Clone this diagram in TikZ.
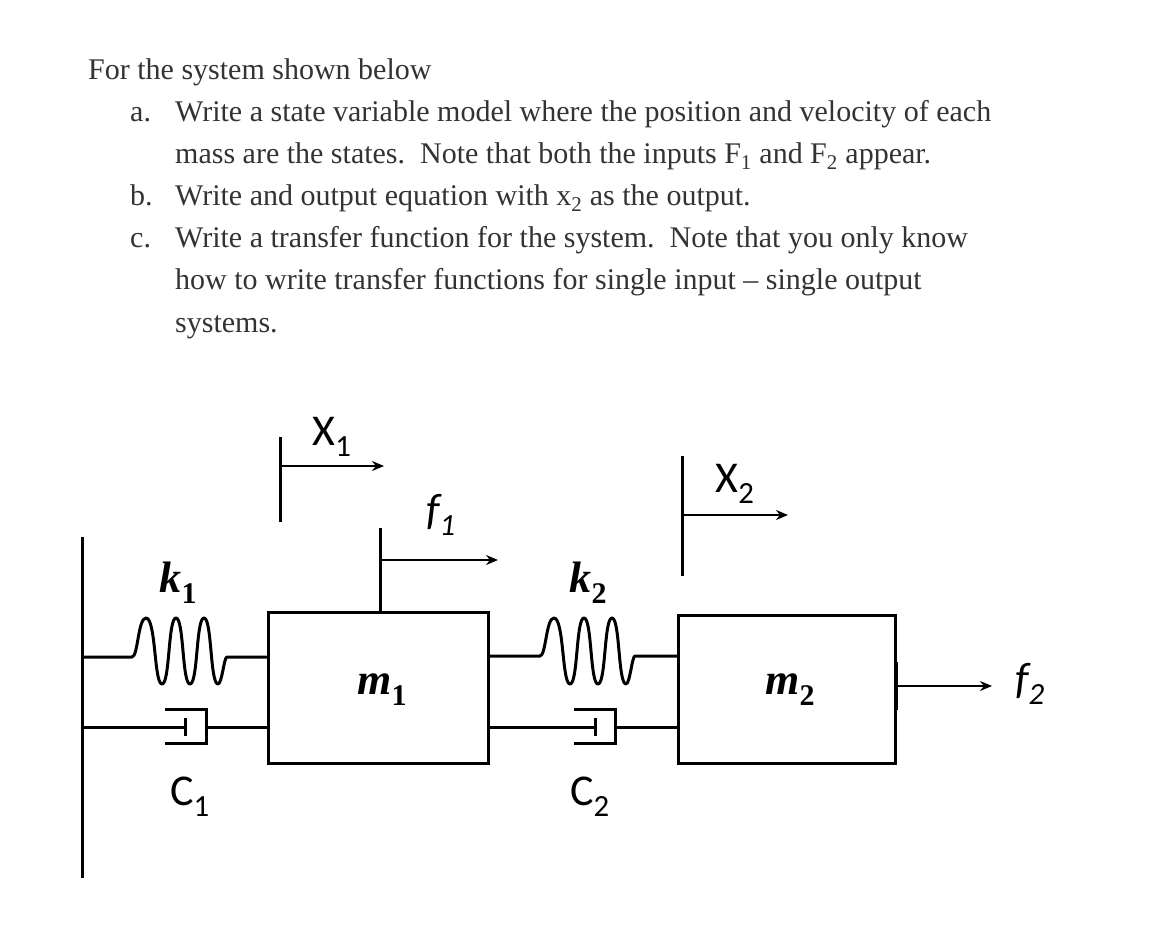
\documentclass[tikz,border=0pt]{standalone}
\usepackage{fontspec}
\setmainfont{Liberation Serif}
\newfontfamily\lblfont{Carlito}
\usetikzlibrary{arrows.meta}
\newcommand{\bsym}[2]{{\bfseries\itshape #1}\raisebox{-0.25em}{\fontsize{30}{30}\selectfont\bfseries #2}}
\begin{document}
\begin{tikzpicture}[x=1pt,y=-1pt,
  ln/.style={line width=3pt},
  txt/.style={anchor=base west,inner sep=0,text=black!80,font=\fontsize{30}{34}\selectfont},
  lab/.style={inner sep=0,font=\lblfont\fontsize{44}{44}\selectfont},
  ml/.style={inner sep=0,font=\fontsize{44}{44}\selectfont},
  arr/.style={line width=2.6pt,-{Stealth[length=12pt,width=10pt]}}]
\useasboundingbox (0,0) rectangle (1152,952);
% text
\node[txt] (t0) at (88,80) {For the system shown below};
\node[txt] (ta) at (130,122) {a.};
\node[txt] (ta1) at (175,122) {Write a state variable model where the position and velocity of each};
\node[txt] (ta2) at (175,164) {mass are the states.\ \ Note that both the inputs F\textsubscript{1} and F\textsubscript{2} appear.};
\node[txt] (tb) at (130,206) {b.};
\node[txt] (tb1) at (175,206) {Write and output equation with x\textsubscript{2} as the output.};
\node[txt] (tc) at (130,248) {c.};
\node[txt] (tc1) at (175,248) {Write a transfer function for the system.\ \ Note that you only know};
\node[txt] (tc2) at (175,290) {how to write transfer functions for single input -- single output};
\node[txt] (tc3) at (175,332) {systems.};
% wall
\coordinate (w1) at (82,537); \coordinate (w2) at (82,878);
\draw[ln] (w1) -- (w2);
% masses
\node[draw,ln,minimum width=220,minimum height=151,inner sep=0] (m1) at (378,687.5) {};
\node[draw,ln,minimum width=217,minimum height=148,inner sep=0] (m2) at (786.5,689) {};
\node[ml] (m1l) at (382,690) {\bsym{m}{1}};
\node[ml] (m2l) at (790,690) {\bsym{m}{2}};
% spring 1
\draw[ln,line join=round] (82,657) -- (132,657) .. controls (138,657) and (138,618) .. (146,618)
  .. controls (156,618) and (154,684) .. (162,684) .. controls (170,684) and (168,618) .. (176,618)
  .. controls (184,618) and (182,684) .. (190,684) .. controls (198,684) and (196,618) .. (204,618)
  .. controls (212,618) and (210,684) .. (218,684) .. controls (222,684) and (224,657) .. (227,657) -- (268,657);
% damper 1
\draw[ln] (82,727) -- (185,727) (185,718) -- (185,736);
\draw[ln] (165,709) -- (206,709) -- (206,743) -- (165,743) (206,727) -- (268,727);
% spring 2
\draw[ln,line join=round] (488,656) -- (540,656) .. controls (546,656) and (546,618) .. (554,618)
  .. controls (564,618) and (562,684) .. (570,684) .. controls (578,684) and (576,618) .. (584,618)
  .. controls (592,618) and (590,684) .. (598,684) .. controls (606,684) and (604,618) .. (612,618)
  .. controls (620,618) and (618,684) .. (626,684) .. controls (630,684) and (632,656) .. (635,656) -- (678,656);
% damper 2
\draw[ln] (488,727) -- (595,727) (595,718) -- (595,736);
\draw[ln] (574,709) -- (615,709) -- (615,743) -- (574,743) (615,727) -- (678,727);
% labels
\node[ml] (k1) at (178,583) {\bsym{k}{1}};
\node[ml] (k2) at (588,583) {\bsym{k}{2}};
\node[lab] (c1) at (190,797) {C\textsubscript{1}};
\node[lab] (c2) at (590,797) {C\textsubscript{2}};
% X1
\coordinate (x1a) at (280,437); \coordinate (x1b) at (280,522); \coordinate (x1c) at (280,466); \coordinate (x1d) at (384,466);
\draw[ln] (x1a) -- (x1b); \draw[arr] (x1c) -- (x1d);
\node[lab] (x1l) at (332,437) {X\textsubscript{1}};
% f1
\coordinate (f1b) at (380,528); \coordinate (f1c) at (380,560); \coordinate (f1d) at (498,560);
\draw[ln] (m1.north -| f1b) -- (f1b); \draw[arr] (f1c) -- (f1d);
\node[lab] (f1l) at (441,515) {\itshape f\textsubscript{1}};
% X2
\coordinate (x2a) at (682,456); \coordinate (x2b) at (682,576); \coordinate (x2c) at (682,515); \coordinate (x2d) at (788,515);
\draw[ln] (x2a) -- (x2b); \draw[arr] (x2c) -- (x2d);
\node[lab] (x2l) at (735,484) {X\textsubscript{2}};
% f2
\coordinate (f2a) at (897,662); \coordinate (f2b) at (897,710); \coordinate (f2c) at (897,686); \coordinate (f2d) at (992,686);
\draw[line width=2pt] (f2a) -- (f2b); \draw[arr,line width=2pt] (f2c) -- (f2d);
\node[lab] (f2l) at (1030,684) {\itshape f\textsubscript{2}};
\end{tikzpicture}
\end{document}
